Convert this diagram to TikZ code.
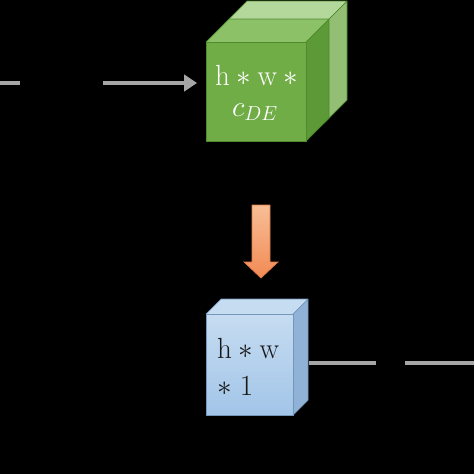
\documentclass[tikz,border=0pt]{standalone}
\usetikzlibrary{positioning, arrows.meta, calc}

\definecolor{linegray}{HTML}{A6A6A6}
\definecolor{greenfront}{HTML}{70AD47}
\definecolor{greentop}{HTML}{8CC168}
\definecolor{greenside}{HTML}{5B9A36}
\definecolor{greenedge}{HTML}{4F8A2C}
\definecolor{backtop}{HTML}{B4D89B}
\definecolor{backside}{HTML}{93BF74}
\definecolor{bluetop}{HTML}{C6DCF1}
\definecolor{bluelow}{HTML}{A2C5E8}
\definecolor{blueside}{HTML}{8FB2D6}
\definecolor{blueedge}{HTML}{7496BA}
\definecolor{orangetop}{HTML}{F8BE96}
\definecolor{orangelow}{HTML}{F28A55}
\definecolor{orangeedge}{HTML}{E07A45}

% front face corners (x0,y0) (x1,y1), depth, top, side, edge
\newcommand{\boxcube}[8]{
  \fill[#6] (#1,#2) -- (#1+#5,#2-#5) -- (#3+#5,#2-#5) -- (#3,#2) -- cycle;
  \fill[#7] (#3,#2) -- (#3+#5,#2-#5) -- (#3+#5,#4-#5) -- (#3,#4) -- cycle;
  \draw[#8, line width=0.6pt] (#1,#2) -- (#1+#5,#2-#5) -- (#3+#5,#2-#5) -- (#3+#5,#4-#5) -- (#3,#4)
    (#3,#2) -- (#3+#5,#2-#5);
}

\begin{document}
\begin{tikzpicture}[x=0.03cm, y=-0.03cm,
  grayline/.style={draw=linegray, line width=3.4pt},
  cubetext/.style={font=\fontsize{23}{26}\selectfont, inner sep=0pt}]
  \useasboundingbox (0,0) rectangle (474,474);
  \fill[black] (0,0) rectangle (474,474);

  % input line and arrow
  \coordinate (inA) at (0,83);
  \coordinate (inB) at (20,83);
  \coordinate (inC) at (103,83);
  \coordinate (inD) at (197,83);
  \draw[grayline] (inA) -- (inB);
  \draw[grayline, -{Triangle[length=11pt, width=14pt]}] (inC) -- (inD);

  % green cubes
  \boxcube{224}{24}{324}{123}{23}{backtop}{backside}{greenedge}
  \fill[greenfront] (206,42) rectangle (306,141);
  \boxcube{206}{42}{306}{141}{23}{greentop}{greenside}{greenedge}
  \draw[greenedge, line width=0.6pt] (206,42) rectangle (306,141);
  \node[cubetext, white, anchor=west] (feat) at (215,75) {$\mathrm{h}*\mathrm{w}*{}$};
  \node[cubetext, white] (featc) at (255,112) {$c_{DE}$};

  % orange arrow
  \shade[top color=orangetop, bottom color=orangelow, draw=orangeedge, line width=0.6pt]
    (252,205) -- (270,205) -- (270,262) -- (278,262) -- (261,278) -- (244,262) -- (252,262) -- cycle;

  % blue cube
  \shade[top color=bluetop, bottom color=bluelow] (206,314) rectangle (293,415);
  \boxcube{206}{314}{293}{415}{15}{bluetop}{blueside}{blueedge}
  \draw[blueedge, line width=0.6pt] (206,314) rectangle (293,415);
  \node[cubetext, text=black!90, align=left, anchor=west] (map) at (217,367)
    {$\mathrm{h}*\mathrm{w}$\\[5pt] $*\;1$};

  % output line
  \coordinate (outA) at (309,363);
  \coordinate (outB) at (376,363);
  \coordinate (outC) at (405,363);
  \coordinate (outD) at (474,363);
  \draw[grayline] (outA) -- (outB);
  \draw[grayline] (outC) -- (outD);
\end{tikzpicture}
\end{document}
